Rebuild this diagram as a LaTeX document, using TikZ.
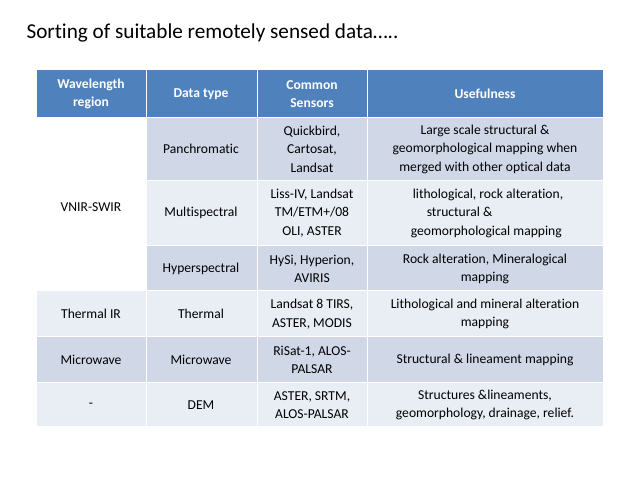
\documentclass[tikz,border=0pt]{standalone}
\usepackage{fontspec}
\setmainfont{Carlito}[Ligatures=NoCommon]
\begin{document}
\begin{tikzpicture}[x=1pt,y=1pt,
  cellA/.style={fill=cA,draw=white,line width=1pt},
  cellB/.style={fill=cB,draw=white,line width=1pt},
  hd/.style={fill=hdc,draw=white,line width=1pt},
  txt/.style={align=center,font=\fontsize{13.6}{18.5}\selectfont,text=black},
  htxt/.style={align=center,font=\bfseries\fontsize{13.6}{18.5}\selectfont,text=white}]
\definecolor{cA}{HTML}{D0D8E8}
\definecolor{cB}{HTML}{E9EDF4}
\definecolor{hdc}{HTML}{4F81BD}
\useasboundingbox (0,0) rectangle (638,-478);
\node[anchor=west,font=\fontsize{21.2}{24}\selectfont] (title) at (23,-33) {Sorting of suitable remotely sensed data…..};
% header
\path[hd] (36,-70) rectangle (146,-118);
\path[hd] (146,-70) rectangle (257,-118);
\path[hd] (257,-70) rectangle (367,-118);
\path[hd] (367,-70) rectangle (603,-118);
% VNIR column
\path[cA] (36,-118) rectangle (146,-291);
% rows
\foreach \ya/\yb/\s in {118/181/cellA,181/246/cellB,246/291/cellA}{
  \path[\s] (146,-\ya) rectangle (257,-\yb);
  \path[\s] (257,-\ya) rectangle (367,-\yb);
  \path[\s] (367,-\ya) rectangle (603,-\yb);}
\foreach \ya/\yb/\s in {291/337/cellB,337/383/cellA,383/427/cellB}{
  \path[\s] (36,-\ya) rectangle (146,-\yb);
  \path[\s] (146,-\ya) rectangle (257,-\yb);
  \path[\s] (257,-\ya) rectangle (367,-\yb);
  \path[\s] (367,-\ya) rectangle (603,-\yb);}
% header text
\node[htxt] (h1) at (91,-94) {Wavelength\\region};
\node[htxt] (h2) at (201,-94) {Data type};
\node[htxt] (h3) at (312,-94) {Common\\Sensors};
\node[htxt] (h4) at (485,-94) {Usefulness};
% body
\node[txt] (v1) at (91,-207) {VNIR-SWIR};
\node[txt] (p2) at (201,-149) {Panchromatic};
\node[txt] (p3) at (312,-149) {Quickbird,\\Cartosat,\\Landsat};
\node[txt] (p4) at (485,-149) {Large scale structural \&\\geomorphological mapping when\\merged with other optical data};
\node[txt] (m2) at (201,-213) {Multispectral};
\node[txt,align=left] (m4) at (487,-213) {\hspace*{2pt}lithological, rock alteration,\\\hspace*{16pt}structural \&\\geomorphological mapping};
\node[txt] (m3) at (312,-213) {Liss-IV, Landsat\\TM/ETM+/08\\OLI, ASTER};
\node[txt] (hy2) at (201,-269) {Hyperspectral};
\node[txt] (hy3) at (312,-269) {HySi, Hyperion,\\AVIRIS};
\node[txt] (hy4) at (485,-269) {Rock alteration, Mineralogical\\mapping};
\node[txt] (t1) at (91,-314) {Thermal IR};
\node[txt] (t2) at (201,-314) {Thermal};
\node[txt] (t3) at (312,-314) {Landsat 8 TIRS,\\ASTER, MODIS};
\node[txt] (t4) at (485,-314) {Lithological and mineral alteration\\mapping};
\node[txt] (w1) at (91,-360) {Microwave};
\node[txt] (w2) at (201,-360) {Microwave};
\node[txt] (w3) at (312,-360) {RiSat-1, ALOS-\\PALSAR};
\node[txt] (w4) at (485,-360) {Structural \& lineament mapping};
\node[txt] (d1) at (91,-405) {-};
\node[txt] (d2) at (201,-405) {DEM};
\node[txt] (d3) at (312,-405) {ASTER, SRTM,\\ALOS-PALSAR};
\node[txt] (d4) at (485,-405) {Structures \&lineaments,\\geomorphology, drainage, relief.};
\end{tikzpicture}
\end{document}
